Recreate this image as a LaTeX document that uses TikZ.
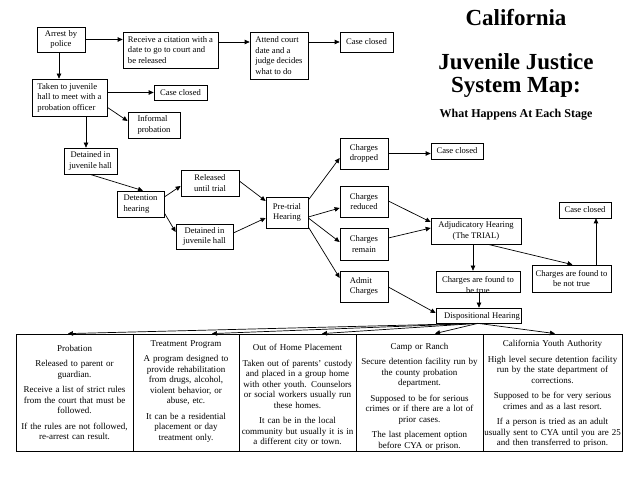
\documentclass[tikz,border=0pt]{standalone}
\usepackage{fontspec}
\setmainfont{Liberation Serif}
\usetikzlibrary{arrows.meta}
\begin{document}
\begin{tikzpicture}[x=1pt,y=-1pt,
  box/.style={draw, line width=0.7pt, inner sep=1pt, font=\fontsize{8.6}{10.5}\selectfont, align=center},
  txt/.style={inner sep=0pt, font=\fontsize{8.6}{10.5}\selectfont, align=center},
  col/.style={draw, line width=0.8pt, minimum height=117pt, inner sep=0pt},
  coltext/.style={inner sep=0pt, anchor=north, align=center, font=\fontsize{9}{10.5}\selectfont},
  ttl/.style={inner sep=0pt, font=\bfseries\fontsize{23}{24}\selectfont},
  arr/.style={-{Triangle[length=5pt,width=4.5pt]}, line width=0.7pt},
  ln/.style={line width=0.7pt}]
\useasboundingbox (0,0) rectangle (638,478);
% titles
\node[ttl] (t1) at (516,18) {California};
\node[ttl] (t2) at (516,62) {Juvenile Justice};
\node[ttl] (t3) at (516,87) {System Map:};
\node[inner sep=0pt, font=\bfseries\fontsize{12}{13}\selectfont] (t4) at (516,115) {What Happens At Each Stage};
% boxes
\node[box, minimum width=48pt, minimum height=25pt] (arrest) at (61,39.5) {Arrest by\\police};
\node[box, align=left, minimum width=95pt, minimum height=36pt] (receive) at (170.5,50) {Receive a citation with a\\date to go to court and\\be released};
\node[box, align=left, minimum width=58pt, minimum height=47pt] (attend) at (279,55.5) {Attend court\\date and a\\judge decides\\what to do};
\node[box, minimum width=53pt, minimum height=20pt] (cc1) at (366.5,42) {Case closed};
\node[box, align=left, minimum width=75pt, minimum height=37pt] (taken) at (69.5,97.5) {Taken to juvenile\\hall to meet with a\\probation officer};
\node[box, minimum width=53pt, minimum height=15pt] (cc2) at (180.5,92.5) {Case closed};
\node[box, align=left, minimum width=52pt, minimum height=26pt] (informal) at (154,125) {Informal\\probation};
\node[box, minimum width=53pt, minimum height=26pt] (det1) at (90.5,161) {Detained in\\juvenile hall};
\node[box, align=left, minimum width=47pt, minimum height=26pt] (dethear) at (140.5,204) {Detention\\hearing};
\node[box, minimum width=58pt, minimum height=26pt] (released) at (210,183) {Released\\until trial};
\node[box, minimum width=57pt, minimum height=25pt] (det2) at (204.5,236.5) {Detained in\\juvenile hall};
\node[box, minimum width=42pt, minimum height=31pt] (pretrial) at (287,212.5) {Pre-trial\\Hearing};
\node[box, minimum width=48pt, minimum height=31pt] (dropped) at (364,153.5) {Charges\\dropped};
\node[box, minimum width=52pt, minimum height=16pt] (cc3) at (457,151) {Case closed};
\node[box, minimum width=48pt, minimum height=31pt] (reduced) at (364,201.5) {Charges\\reduced};
\node[box, minimum width=48pt, minimum height=32pt] (remain) at (364,244) {Charges\\remain};
\node[box, align=left, minimum width=48pt, minimum height=31pt] (admit) at (364,286.5) {Admit\\Charges};
\node[box, minimum width=90pt, minimum height=26pt] (adj) at (476,231) {Adjudicatory Hearing\\(The TRIAL)};
\node[box, minimum width=52pt, minimum height=16pt] (cc4) at (585,210) {Case closed};
\node[box, minimum width=84pt, minimum height=21pt] (true) at (478,281.5) {};
\node[txt] (truetext) at (478,285) {Charges are found to\\be true};
\node[box, minimum width=79pt, minimum height=27pt] (nottrue) at (571.5,278.5) {Charges are found to\\be not true};
\node[box, minimum width=85pt, minimum height=15pt] (disp) at (478.5,315.5) {};
\node[txt] (disptext) at (482,316.5) {Dispositional Hearing};
% bottom columns
\node[col, minimum width=117pt] (prob) at (74.5,392.5) {};
\node[col, minimum width=106pt] (treat) at (186,392.5) {};
\node[col, minimum width=117pt] (home) at (297.5,392.5) {};
\node[col, minimum width=127pt] (camp) at (419.5,392.5) {};
\node[col, minimum width=139pt] (cya) at (552.5,392.5) {};
\node[coltext, text width=113pt] (probtext) at (74.5,345) {Probation\\[5pt]Released to parent or\\guardian.\\[5pt]Receive a list of strict rules\\from the court that must be\\followed.\\[5pt]If the rules are not followed,\\re-arrest can result.};
\node[coltext, text width=104pt] (treattext) at (186,340) {Treatment Program\\[5pt]A program designed to\\provide rehabilitation\\from drugs, alcohol,\\violent behavior, or\\abuse, etc.\\[5pt]It can be a residential\\placement or day\\treatment only.};
\node[coltext, text width=115pt] (hometext) at (297.5,344) {Out of Home Placement\\[5pt]Taken out of parents' custody\\and placed in a group home\\with other youth. Counselors\\or social workers usually run\\these homes.\\[5pt]It can be in the local\\community but usually it is in\\a different city or town.};
\node[coltext, text width=125pt] (camptext) at (419.5,343) {Camp or Ranch\\[5pt]Secure detention facility run by\\the county probation\\department.\\[5pt]Supposed to be for serious\\crimes or if there are a lot of\\prior cases.\\[5pt]The last placement option\\before CYA or prison.};
\node[coltext, text width=137pt] (cyatext) at (552.5,340) {California Youth Authority\\[5pt]High level secure detention facility\\run by the state department of\\corrections.\\[5pt]Supposed to be for very serious\\crimes and as a last resort.\\[5pt]If a person is tried as an adult\\usually sent to CYA until you are 25\\and then transferred to prison.};
% connectors
\draw[arr] (arrest.east) -- (receive.west |- arrest.east);
\draw[arr] (receive.east |- cc1) -- (attend.west |- cc1);
\draw[arr] (attend.east |- cc1) -- (cc1.west);
\draw[arr] ([xshift=-2pt]arrest.south) -- ([xshift=-2pt]arrest.south |- taken.north);
\draw[arr] (taken.east |- cc2) -- (cc2.west);
\draw[arr] ([yshift=9pt]taken.south east) -- ([yshift=4pt]informal.west);
\coordinate (tk) at ([xshift=16.5pt]taken.south);
\draw[arr] (tk) -- (tk |- det1.north);
\draw[arr] ([xshift=-0.5pt]det1.south) -- ([xshift=2.5pt]dethear.north);
\draw[arr] ([yshift=7pt]dethear.east) -- ([yshift=-3pt]released.west);
\draw[arr] ([yshift=-9pt]dethear.east) -- ([yshift=4.5pt]det2.west);
\draw[arr] ([yshift=2pt]released.east) -- ([yshift=11.5pt]pretrial.west);
\draw[arr] ([yshift=3.5pt]det2.east) -- ([yshift=-5.5pt]pretrial.west);
\draw[arr] ([yshift=12.5pt]pretrial.east) -- ([yshift=-4.5pt]dropped.west);
\draw[arr] ([yshift=-4.5pt]pretrial.east) -- ([yshift=-6.5pt]reduced.west);
\draw[arr] ([yshift=-5.5pt]pretrial.east) -- ([yshift=2pt]remain.west);
\draw[arr] ([yshift=-14.5pt]pretrial.east) -- ([yshift=8.5pt]admit.west);
\draw[arr] (dropped.east) -- (cc3.west |- dropped.east);
\draw[arr] ([yshift=0.5pt]reduced.east) -- ([yshift=9pt]adj.west);
\draw[arr] ([yshift=6pt]remain.east) -- ([yshift=3pt]adj.west);
\coordinate (aj) at ([xshift=-3pt]adj.south);
\draw[arr] (aj) -- (aj |- true.north);
\draw[arr] ([xshift=12pt]adj.south) -- ([xshift=1pt]nottrue.north);
\coordinate (nt) at ([xshift=24.5pt]nottrue.north);
\draw[arr] (nt) -- (nt |- cc4.south);
\coordinate (tr) at ([xshift=1pt]true.south);
\draw[arr] (tr) -- (tr |- disp.north);
\draw[arr] ([yshift=-0.5pt]admit.east) -- ([yshift=2.5pt]disp.west);
\coordinate (ds) at ([xshift=-0.5pt]disp.south);
\draw[arr] (ds) -- ([xshift=-6.5pt]prob.north);
\draw[arr] (ds) -- ([xshift=26pt]treat.north);
\draw[arr] (ds) -- ([xshift=24.5pt]home.north);
\draw[arr] (ds) -- ([xshift=15.5pt]camp.north);
\draw[arr] (ds) -- ([xshift=2.5pt]cya.north);
\end{tikzpicture}
\end{document}
